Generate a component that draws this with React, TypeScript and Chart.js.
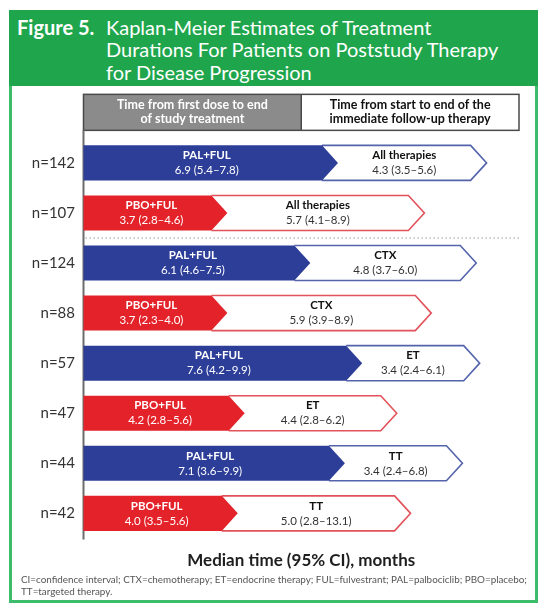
import { useEffect, useRef } from 'react';
import { Chart, registerables } from 'chart.js';

Chart.register(...registerables);

// ---- data ----
const rowLabels = ['n=142', 'n=107', 'n=124', 'n=88', 'n=57', 'n=47', 'n=44', 'n=42'];
const armNames = ['PAL+FUL', 'PBO+FUL', 'PAL+FUL', 'PBO+FUL', 'PAL+FUL', 'PBO+FUL', 'PAL+FUL', 'PBO+FUL'];
const studyMedian = [6.9, 3.7, 6.1, 3.7, 7.6, 4.2, 7.1, 4.0];
const studyCI = ['5.4–7.8', '2.8–4.6', '4.6–7.5', '2.3–4.0', '4.2–9.9', '2.8–5.6', '3.6–9.9', '3.5–5.6'];
const therapyNames = ['All therapies', 'All therapies', 'CTX', 'CTX', 'ET', 'ET', 'TT', 'TT'];
const followMedian = [4.3, 5.7, 4.8, 5.9, 3.4, 4.4, 3.4, 5.0];
const followCI = ['3.5–5.6', '4.1–8.9', '3.7–6.0', '3.9–8.9', '2.4–6.1', '2.8–6.2', '2.4–6.8', '2.8–13.1'];
const headerLeft = ['Time from first dose to end', 'of study treatment'];
const headerRight = ['Time from start to end of the', 'immediate follow-up therapy'];
const axisTitle = 'Median time (95% CI), months';
const titleLines = ['Kaplan-Meier Estimates of Treatment', 'Durations For Patients on Poststudy Therapy', 'for Disease Progression'];
const footLines = [
  'CI=confidence interval; CTX=chemotherapy; ET=endocrine therapy; FUL=fulvestrant; PAL=palbociclib; PBO=placebo;',
  'TT=targeted therapy.',
];

// ---- style ----
const FONT = 'Lato, "Open Sans", sans-serif';
const BLUE = '#2d3e98';
const RED = '#e42229';
const BLUE_LINE = '#5364ab';
const RED_LINE = '#e2525a';
const GREEN = '#1fa64d';
const GREEN_BORDER = '#3dbd6b';

export default function App() {
  const ref = useRef<HTMLCanvasElement>(null);

  useEffect(() => {
    const canvas = ref.current;
    if (!canvas) return;

    const arrowPlugin = {
      id: 'arrows',
      afterDatasetsDraw(chart: any) {
        const c = chart.ctx as CanvasRenderingContext2D;
        const { left, right, top, bottom } = chart.chartArea;
        const m0 = chart.getDatasetMeta(0);
        const m1 = chart.getDatasetMeta(1);
        const tip = 16;
        c.save();

        // header boxes
        const hb = top - 7.5;
        const ht = hb - 36;
        const mid = (left + right) / 2;
        c.fillStyle = '#8b8b8b';
        c.fillRect(left, ht, mid - left, hb - ht);
        c.fillStyle = '#ffffff';
        c.fillRect(mid, ht, right - mid, hb - ht);
        c.strokeStyle = '#4a4a4a';
        c.lineWidth = 1.5;
        c.strokeRect(left, ht, right - left, hb - ht);
        c.beginPath();
        c.moveTo(mid, ht);
        c.lineTo(mid, hb);
        c.stroke();
        c.textAlign = 'center';
        c.textBaseline = 'middle';
        c.font = `bold 12.5px ${FONT}`;
        const hc = (ht + hb) / 2;
        headerLeft.forEach((t, k) => {
          c.fillStyle = '#ffffff';
          c.fillText(t, (left + mid) / 2, hc - 7 + k * 14);
        });
        headerRight.forEach((t, k) => {
          c.fillStyle = '#111111';
          c.fillText(t, (mid + right) / 2, hc - 7 + k * 14);
        });

        // axis line
        c.strokeStyle = '#6d6d6d';
        c.lineWidth = 2;
        c.beginPath();
        c.moveTo(left, hb);
        c.lineTo(left, bottom + 1);
        c.stroke();

        // dotted separator between first group and the rest
        const y0 = (m0.data[1] as any).y;
        const y1 = (m0.data[2] as any).y;
        const ys = (y0 + y1) / 2;
        c.strokeStyle = '#9a9a9a';
        c.lineWidth = 1.2;
        c.setLineDash([1.5, 2.5]);
        c.beginPath();
        c.moveTo(left + 2, ys);
        c.lineTo(right, ys);
        c.stroke();
        c.setLineDash([]);

        rowLabels.forEach((_, i) => {
          const s = m0.data[i] as any;
          const f = m1.data[i] as any;
          const yc = s.y;
          const h = s.height;
          const t = yc - h / 2;
          const b = yc + h / 2;
          const isPal = i % 2 === 0;
          const fill = isPal ? BLUE : RED;
          const line = isPal ? BLUE_LINE : RED_LINE;

          // follow-up (outlined) arrow
          c.beginPath();
          c.moveTo(f.base, t);
          c.lineTo(f.x, t);
          c.lineTo(f.x + tip, yc);
          c.lineTo(f.x, b);
          c.lineTo(f.base, b);
          c.fillStyle = '#ffffff';
          c.fill();
          c.strokeStyle = line;
          c.lineWidth = 1.6;
          c.stroke();

          // study (solid) arrow
          c.beginPath();
          c.moveTo(s.base, t);
          c.lineTo(s.x, t);
          c.lineTo(s.x + tip, yc);
          c.lineTo(s.x, b);
          c.lineTo(s.base, b);
          c.closePath();
          c.fillStyle = fill;
          c.fill();

          // texts
          const sx = (s.base + s.x + tip / 2) / 2;
          const fx = (f.base + f.x + tip) / 2;
          c.fillStyle = '#ffffff';
          c.font = `bold 11.5px ${FONT}`;
          c.fillText(armNames[i], sx, yc - 7.5);
          c.font = `11.5px ${FONT}`;
          c.fillText(`${studyMedian[i].toFixed(1)} (${studyCI[i]})`, sx, yc + 7.5);
          c.fillStyle = '#111111';
          c.font = `bold 11.5px ${FONT}`;
          c.fillText(therapyNames[i], fx, yc - 7.5);
          c.fillStyle = '#333333';
          c.font = `11.5px ${FONT}`;
          c.fillText(`${followMedian[i].toFixed(1)} (${followCI[i]})`, fx, yc + 7.5);
        });
        c.restore();
      },
    };

    const chart = new Chart(canvas, {
      type: 'bar',
      data: {
        labels: rowLabels,
        datasets: [
          {
            label: 'Time from first dose to end of study treatment',
            data: studyMedian,
            backgroundColor: 'rgba(0,0,0,0)',
            borderWidth: 0,
            categoryPercentage: 1,
            barPercentage: 0.7,
          },
          {
            label: 'Time from start to end of the immediate follow-up therapy',
            data: followMedian,
            backgroundColor: 'rgba(0,0,0,0)',
            borderWidth: 0,
            categoryPercentage: 1,
            barPercentage: 0.7,
          },
        ],
      },
      options: {
        indexAxis: 'y',
        responsive: false,
        animation: false,
        devicePixelRatio: 1,
        layout: { padding: { top: 137.85, right: 25, bottom: 39.2, left: 0 } },
        plugins: {
          legend: { display: false },
          tooltip: { enabled: false },
          title: { display: false },
        },
        scales: {
          x: {
            type: 'linear',
            stacked: true,
            min: 0,
            max: 12.6,
            grid: { display: false, drawTicks: false },
            border: { display: false },
            ticks: { display: false },
            title: {
              display: true,
              text: axisTitle,
              color: '#1e1e1e',
              font: { family: FONT, size: 17, weight: 'bold' },
              padding: { top: 12, bottom: 0 },
            },
          },
          y: {
            type: 'category',
            stacked: true,
            grid: { display: false, drawTicks: false },
            border: { display: false },
            ticks: { color: '#333333', font: { family: FONT, size: 15 }, padding: 8.5 },
            afterFit: (scale: any) => {
              scale.width = 83.5;
            },
          },
        },
      },
      plugins: [arrowPlugin],
    });

    return () => chart.destroy();
  }, []);

  return (
    <div style={{ position: 'absolute', left: 0, top: 0, width: 544, height: 610, fontFamily: FONT, background: '#fff' }}>
      <div
        style={{
          position: 'absolute',
          left: 9,
          top: 10,
          width: 529,
          height: 593,
          boxSizing: 'border-box',
          border: `3px solid ${GREEN_BORDER}`,
        }}
      />
      <div style={{ position: 'absolute', left: 9, top: 10, width: 529, height: 76, background: GREEN }} />
      <div
        style={{
          position: 'absolute',
          left: 17,
          top: 16.2,
          color: '#fff',
          fontSize: 20,
          lineHeight: '22.2px',
          fontWeight: 'bold',
          whiteSpace: 'nowrap',
        }}
      >
        Figure 5.
      </div>
      <div
        style={{
          position: 'absolute',
          left: 106,
          top: 16.2,
          color: '#fff',
          fontSize: 20,
          lineHeight: '22.2px',
          whiteSpace: 'nowrap',
        }}
      >
        {titleLines.map((l) => (
          <div key={l}>{l}</div>
        ))}
      </div>
      <canvas ref={ref} width={544} height={610} style={{ position: 'absolute', left: 0, top: 0, width: 544, height: 610 }} />
      <div
        style={{
          position: 'absolute',
          left: 21,
          top: 573,
          color: '#555',
          fontSize: 9.85,
          lineHeight: '12px',
          whiteSpace: 'nowrap',
        }}
      >
        {footLines.map((l) => (
          <div key={l}>{l}</div>
        ))}
      </div>
    </div>
  );
}
